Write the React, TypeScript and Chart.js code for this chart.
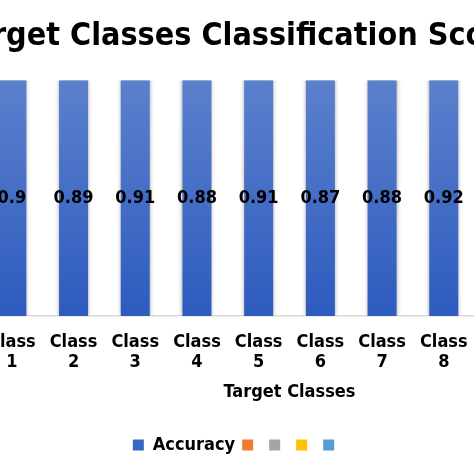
import React, { useEffect, useRef } from "react";
import { Chart, registerables } from "chart.js";

Chart.register(...registerables);

// Data (Class 9 and 10 lie outside the visible crop)
const classLabels = [
  ["Class", "1"], ["Class", "2"], ["Class", "3"], ["Class", "4"], ["Class", "5"],
  ["Class", "6"], ["Class", "7"], ["Class", "8"], ["Class", "9"], ["Class", "10"],
];
const accuracy: (number | null)[] = [0.9, 0.89, 0.91, 0.88, 0.91, 0.87, 0.88, 0.92, null, null];
const emptySeriesColors = ["#ED7D31", "#A5A5A5", "#FFC000", "#5B9BD5"];

const FONT = "'DejaVu Sans Condensed', 'DejaVu Sans', sans-serif";

// the chart is wider than the window; the picture is a crop of it
const CANVAS_W = 722;
const CANVAS_H = 474;
const SHIFT_X = 123;
const Y_AXIS_W = 104;

const barGradient = (c: any) => {
  const area = c.chart.chartArea;
  if (!area) return "#4472C4";
  const g = c.chart.ctx.createLinearGradient(0, area.top, 0, area.bottom);
  g.addColorStop(0, "#5B80CD");
  g.addColorStop(1, "#2D5BBE");
  return g;
};

const barShadow = {
  id: "barShadow",
  beforeDatasetDraw(chart: any) {
    chart.ctx.save();
    chart.ctx.shadowColor = "rgba(0,0,0,0.35)";
    chart.ctx.shadowBlur = 4;
  },
  afterDatasetDraw(chart: any) {
    chart.ctx.restore();
  },
};

// labels centred in the visible part of each bar
const centreLabels = {
  id: "centreLabels",
  afterDatasetsDraw(chart: any) {
    const { ctx, chartArea } = chart;
    const meta = chart.getDatasetMeta(0);
    ctx.save();
    ctx.font = `bold 18px ${FONT}`;
    ctx.fillStyle = "#000";
    ctx.textAlign = "center";
    ctx.textBaseline = "middle";
    meta.data.forEach((bar: any, i: number) => {
      const v = accuracy[i];
      if (v == null) return;
      const top = Math.max(bar.y, chartArea.top);
      const bottom = Math.min(bar.base, chartArea.bottom);
      ctx.fillText(String(v), bar.x, (top + bottom) / 2);
    });
    ctx.restore();
  },
};

export default function App() {
  const canvasRef = useRef<HTMLCanvasElement>(null);
  const chartRef = useRef<Chart | null>(null);

  useEffect(() => {
    if (!canvasRef.current) return;
    if (chartRef.current) chartRef.current.destroy();

    chartRef.current = new Chart(canvasRef.current, {
      type: "bar",
      data: {
        labels: classLabels,
        datasets: [
          {
            label: "Accuracy",
            data: accuracy,
            backgroundColor: barGradient,
            borderWidth: 0,
            grouped: false,
            barPercentage: 0.47,
            categoryPercentage: 1,
          },
          ...emptySeriesColors.map((color) => ({
            label: "",
            data: [] as number[],
            backgroundColor: color,
            borderWidth: 0,
            grouped: false,
          })),
        ],
      },
      plugins: [barShadow, centreLabels],
      options: {
        animation: false,
        responsive: false,
        layout: { padding: { left: 0, right: 0, top: 0, bottom: 10 } },
        plugins: {
          title: {
            display: true,
            text: "Target Classes Classification Score",
            color: "#000",
            font: { family: FONT, size: 32, weight: "bold" },
            padding: { top: 17, bottom: 25 },
          },
          legend: {
            position: "bottom",
            labels: {
              color: "#000",
              font: { family: FONT, size: 18, weight: "bold" },
              boxWidth: 11,
              boxHeight: 11,
              padding: 7,
              generateLabels: (chart: any) =>
                chart.data.datasets.map((ds: any, i: number) => ({
                  text: ds.label,
                  fillStyle: i === 0 ? "#3A67C3" : ds.backgroundColor,
                  strokeStyle: "transparent",
                  lineWidth: 0,
                  datasetIndex: i,
                  fontColor: "#000",
                })),
            },
          },
          tooltip: { enabled: false },
        },
        scales: {
          x: {
            grid: { display: false },
            border: { display: true, color: "#D9D9D9", width: 1.5 },
            ticks: {
              color: "#000",
              font: { family: FONT, size: 18, weight: "bold", lineHeight: 1.11 },
              padding: 8,
              maxRotation: 0,
              autoSkip: false,
            },
            title: {
              display: true,
              text: "Target Classes",
              color: "#000",
              font: { family: FONT, size: 18, weight: "bold", lineHeight: 1 },
              padding: { top: 3, bottom: 28 },
            },
          },
          y: {
            display: true,
            min: 0,
            max: 0.85,
            grid: { display: false },
            border: { display: false },
            ticks: { display: false },
            afterFit: (scale: any) => {
              scale.width = Y_AXIS_W;
            },
          },
        },
      },
    });

    return () => {
      if (chartRef.current) {
        chartRef.current.destroy();
        chartRef.current = null;
      }
    };
  }, []);

  return (
    <div
      style={{
        position: "fixed",
        left: 0,
        top: 0,
        width: 474,
        height: 474,
        overflow: "hidden",
        background: "#fff",
      }}
    >
      <canvas
        ref={canvasRef}
        width={CANVAS_W}
        height={CANVAS_H}
        style={{ position: "absolute", left: -SHIFT_X, top: 0 }}
      />
    </div>
  );
}
